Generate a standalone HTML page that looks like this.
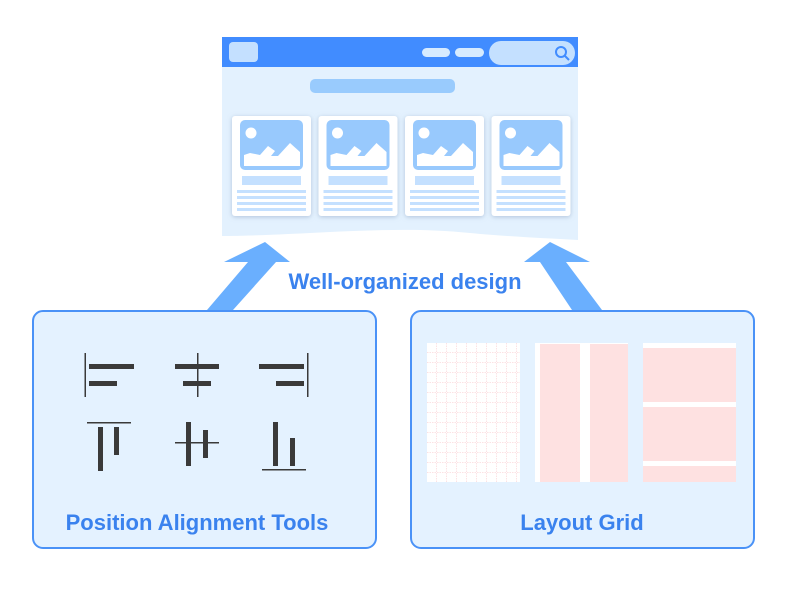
<!DOCTYPE html><html><head><style>body{margin:0;width:800px;height:600px;background:#fff;overflow:hidden;font-family:"Liberation Sans",sans-serif}</style></head><body>
<svg width="800" height="600" xmlns="http://www.w3.org/2000/svg">
<defs><filter id="sh" x="-20%" y="-20%" width="140%" height="140%"><feDropShadow dx="0" dy="1" stdDeviation="2.5" flood-color="#8fa6c4" flood-opacity="0.6"/></filter>
<pattern id="g" width="10" height="10" patternUnits="userSpaceOnUse" x="427" y="343"><path d="M10 0V10M0 10H10" stroke="#f9c6c9" stroke-width="1" stroke-dasharray="1.5 1" fill="none"/></pattern></defs>
<path d="M222 37H578V240C540 238 500 236 470 233C420 228 380 230 330 232C290 234 250 236 222 236Z" fill="#e3f1fe"/>
<rect x="222" y="37" width="356" height="30" fill="#418cff"/>
<rect x="229" y="42" width="29" height="20" rx="4" fill="#c4e0ff"/>
<rect x="422" y="48" width="28" height="9" rx="4.5" fill="#d6ebff"/>
<rect x="455" y="48" width="29" height="9" rx="4.5" fill="#d6ebff"/>
<rect x="489" y="41" width="86" height="24" rx="12" fill="#c4e0ff"/>
<circle cx="561" cy="52" r="5" fill="none" stroke="#418cff" stroke-width="2"/><line x1="565" y1="56" x2="569" y2="60" stroke="#418cff" stroke-width="2"/>
<rect x="310" y="79" width="145" height="14" rx="5" fill="#99cbfd"/>
<g id="c">
<rect x="232" y="116" width="79" height="100" rx="3" fill="#fff" filter="url(#sh)"/>
<rect x="240" y="120" width="63" height="50" rx="5" fill="#98c9fd"/>
<circle cx="251" cy="133" r="5.5" fill="#fff"/>
<path d="M244 166V155L250 153L260 155L268 146L275 151L271 156L278 156L290 143L300 152V166Z" fill="#fff"/>
<rect x="242" y="176" width="59" height="9" fill="#c4e0ff"/>
<rect x="237" y="190" width="69" height="3" fill="#c4e0ff"/><rect x="237" y="196" width="69" height="3" fill="#c4e0ff"/><rect x="237" y="202" width="69" height="3" fill="#c4e0ff"/><rect x="237" y="208" width="69" height="3" fill="#c4e0ff"/>
</g>
<use href="#c" x="86.5"/><use href="#c" x="173"/><use href="#c" x="259.5"/>
<polygon points="224,262 265,242 290,262 276,262 233,310 207,310 248,262" fill="#6aaffe"/>
<polygon points="524,262 550,242 590,262 566,262 602,310 572,310 540,262" fill="#6aaffe"/>
<text x="405" y="289" text-anchor="middle" font-size="22" font-weight="bold" fill="#3a82ee">Well-organized design</text>
<rect x="33" y="311" width="343" height="237" rx="10" fill="#e4f2ff" stroke="#4a92f7" stroke-width="2"/>
<rect x="411" y="311" width="343" height="237" rx="10" fill="#e4f2ff" stroke="#4a92f7" stroke-width="2"/>
<text x="197" y="530" text-anchor="middle" font-size="22" font-weight="bold" fill="#3a82ee">Position Alignment Tools</text>
<text x="582" y="530" text-anchor="middle" font-size="22" font-weight="bold" fill="#3a82ee">Layout Grid</text>
<g fill="#3a3a3a">
<rect x="84.5" y="353" width="1.5" height="44"/><rect x="89" y="364" width="45" height="5"/><rect x="89" y="381" width="28" height="5"/>
<rect x="175" y="364" width="44" height="5"/><rect x="183" y="381" width="28" height="5"/><rect x="197" y="353" width="1.5" height="44"/>
<rect x="307" y="353" width="1.5" height="44"/><rect x="259" y="364" width="45" height="5"/><rect x="276" y="381" width="28" height="5"/>
<rect x="87" y="422" width="44" height="1.5"/><rect x="98" y="427" width="5" height="44"/><rect x="114" y="427" width="5" height="28"/>
<rect x="175" y="442" width="44" height="1.5"/><rect x="186" y="422" width="5" height="44"/><rect x="203" y="430" width="5" height="28"/>
<rect x="262" y="469" width="44" height="1.5"/><rect x="273" y="422" width="5" height="44"/><rect x="290" y="438" width="5" height="28"/>
</g>
<rect x="427" y="343" width="93" height="139" fill="#fff"/><rect x="427" y="343" width="93" height="139" fill="url(#g)"/>
<rect x="535" y="343" width="93" height="139" fill="#fff"/><rect x="540" y="344" width="40" height="138" fill="#fee1e1"/><rect x="590" y="344" width="38" height="138" fill="#fee1e1"/>
<rect x="643" y="343" width="93" height="139" fill="#fff"/><rect x="643" y="348" width="93" height="54" fill="#fee1e1"/><rect x="643" y="407" width="93" height="54" fill="#fee1e1"/><rect x="643" y="466" width="93" height="16" fill="#fee1e1"/>
</svg></body></html>
